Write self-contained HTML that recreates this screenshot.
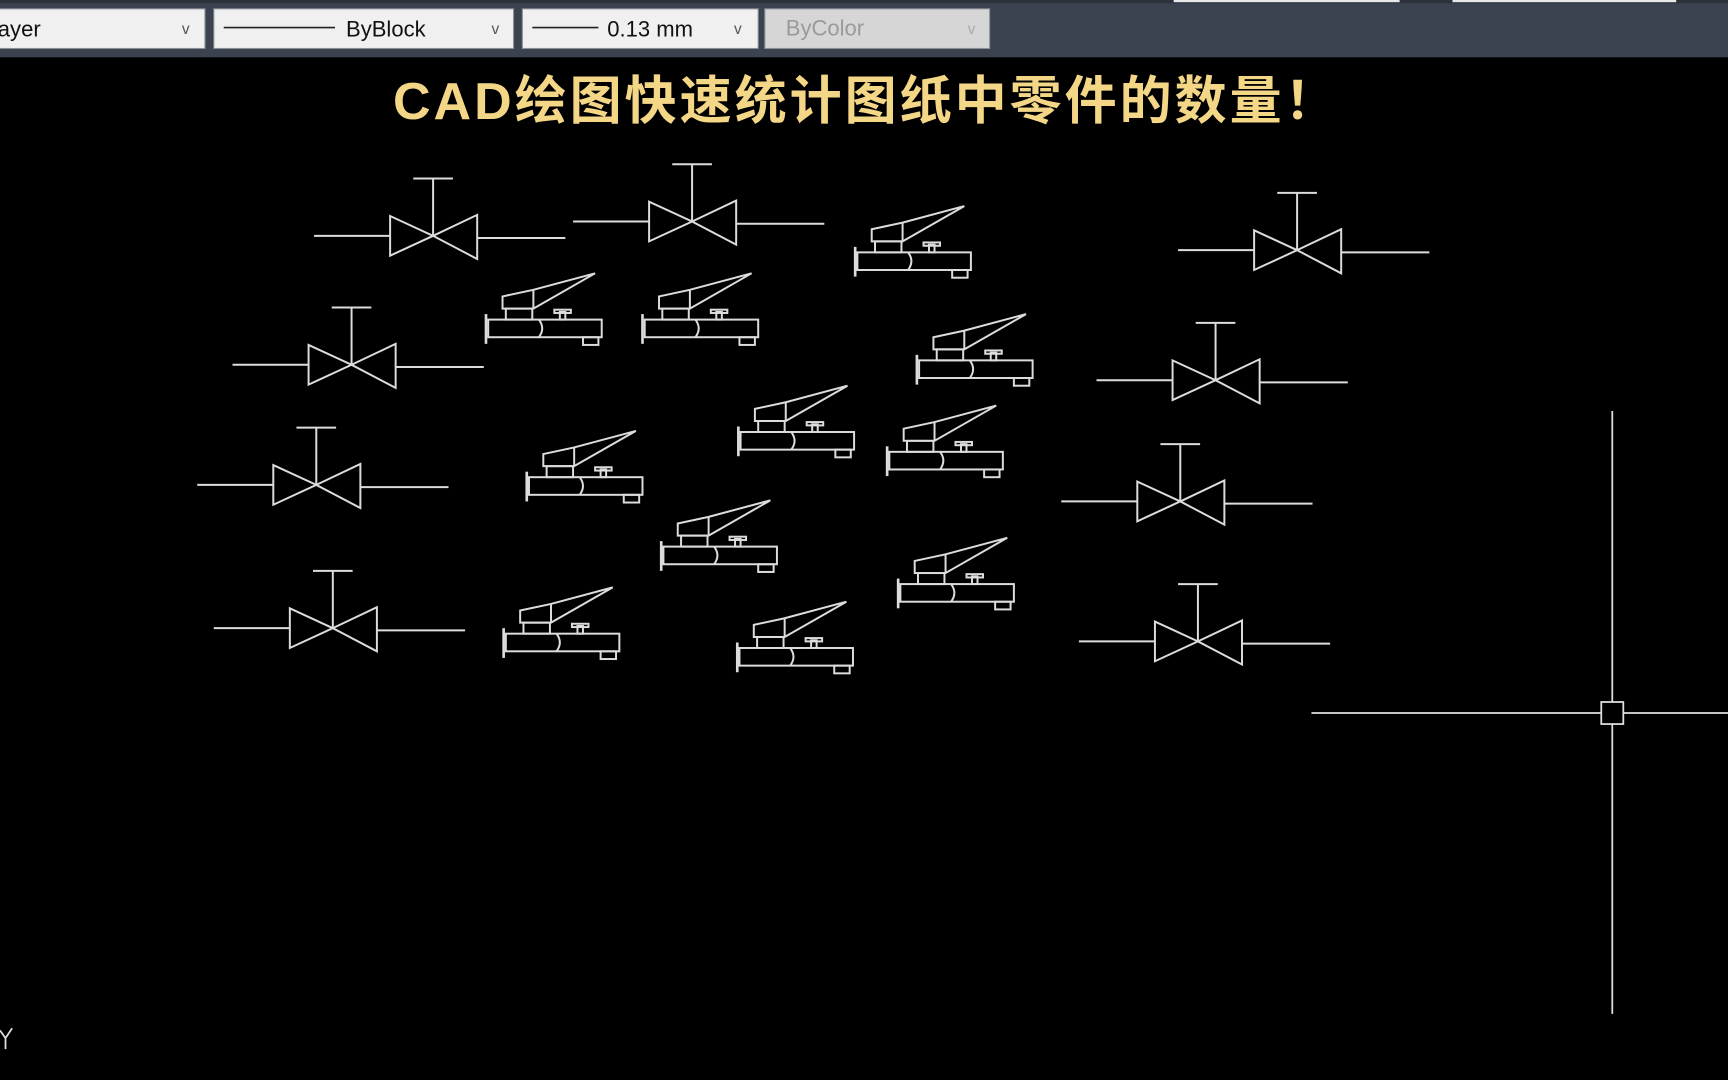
<!DOCTYPE html>
<html><head><meta charset="utf-8"><style>
html,body{margin:0;padding:0;background:#000;width:1728px;height:1080px;overflow:hidden;position:relative}
svg{display:block}
#t{position:absolute;left:393px;top:70px;font-family:"Liberation Sans","Noto Sans CJK SC",sans-serif;font-weight:bold;font-size:52px;line-height:64px;color:#f4d687;letter-spacing:3px;white-space:nowrap}
</style></head><body>
<svg width="1728" height="1080" viewBox="0 0 1568 980" preserveAspectRatio="none" xmlns="http://www.w3.org/2000/svg">
<defs>
<g id="valve" fill="none" stroke="#dcdcdc" stroke-width="1.8">
<line x1="-108" y1="0" x2="-39" y2="0"/>
<polygon points="-39,-18 -39,18 0,0"/>
<polygon points="40,-19 40,21 0,0"/>
<line x1="40" y1="2" x2="120" y2="2"/>
<line x1="0" y1="0" x2="0" y2="-52"/>
<line x1="-18" y1="-52" x2="18" y2="-52"/>
</g>
<g id="fau" fill="none" stroke="#dcdcdc" stroke-width="1.8">
<line x1="0" y1="-5" x2="0" y2="22" stroke-width="2.4"/>
<rect x="2" y="0" width="103" height="16"/>
<path d="M48,0 Q54,8 48,16"/>
<rect x="88" y="16" width="14" height="7"/>
<rect x="67" y="-7" width="5" height="7"/>
<rect x="62" y="-9" width="15" height="3"/>
<rect x="18" y="-10" width="24" height="10"/>
<polygon points="15,-21 43,-27 99,-42 43,-10 15,-10"/>
<line x1="43" y1="-27" x2="43" y2="-10"/>
</g>
</defs>
<rect x="0" y="0" width="1568" height="980" fill="#000"/>
<rect x="0" y="0" width="1568" height="52" fill="#3b4350"/>
<rect x="0" y="0" width="1568" height="3" fill="#2c323c"/>
<rect x="1065" y="0" width="205" height="2" fill="#e8e8e8"/>
<rect x="1318" y="0" width="203" height="2" fill="#e8e8e8"/>
<g font-family="Liberation Sans, sans-serif" font-size="20">
<rect x="-2" y="8" width="188" height="36" fill="#f0f0f0" stroke="#8a8f96"/>
<text x="-2" y="33" fill="#111">ayer</text>
<text x="165" y="31" fill="#555" font-size="14">v</text>
<rect x="194" y="8" width="272" height="36" fill="#f0f0f0" stroke="#8a8f96"/>
<line x1="203" y1="25" x2="304" y2="25" stroke="#222" stroke-width="1.5"/>
<text x="314" y="33" fill="#111">ByBlock</text>
<text x="446" y="31" fill="#555" font-size="14">v</text>
<rect x="474" y="8" width="214" height="36" fill="#f0f0f0" stroke="#8a8f96"/>
<line x1="483" y1="25" x2="543" y2="25" stroke="#222" stroke-width="1.5"/>
<text x="551" y="33" fill="#111">0.13 mm</text>
<text x="666" y="31" fill="#555" font-size="14">v</text>
<rect x="694" y="8" width="204" height="36" fill="#d6d6d6" stroke="#8a8f96"/>
<text x="713" y="32" fill="#9a9a9a">ByColor</text>
<text x="878" y="31" fill="#aaa" font-size="14">v</text>
</g>
<use href="#valve" x="393" y="214"/>
<use href="#valve" x="628" y="201"/>
<use href="#valve" x="1177" y="227"/>
<use href="#valve" x="319" y="331"/>
<use href="#valve" x="1103" y="345"/>
<use href="#valve" x="287" y="440"/>
<use href="#valve" x="1071" y="455"/>
<use href="#valve" x="302" y="570"/>
<use href="#valve" x="1087" y="582"/>
<use href="#fau" x="441" y="290"/>
<use href="#fau" x="583" y="290"/>
<use href="#fau" x="776" y="229"/>
<use href="#fau" x="832" y="327"/>
<use href="#fau" x="670" y="392"/>
<use href="#fau" x="805" y="410"/>
<use href="#fau" x="478" y="433"/>
<use href="#fau" x="600" y="496"/>
<use href="#fau" x="815" y="530"/>
<use href="#fau" x="457" y="575"/>
<use href="#fau" x="669" y="588"/>
<g stroke="#e0e0e0" stroke-width="1.6" fill="none">
<line x1="1463" y1="373" x2="1463" y2="637"/>
<line x1="1463" y1="657" x2="1463" y2="920"/>
<line x1="1190" y1="647" x2="1453" y2="647"/>
<line x1="1473" y1="647" x2="1568" y2="647"/>
<rect x="1453" y="637" width="20" height="20"/>
<path d="M0,935 L5,942 L11,933 M5,942 L5,952"/>
</g>
</svg>
<div id="t">CAD绘图快速统计图纸中零件的数量！</div>
</body></html>
